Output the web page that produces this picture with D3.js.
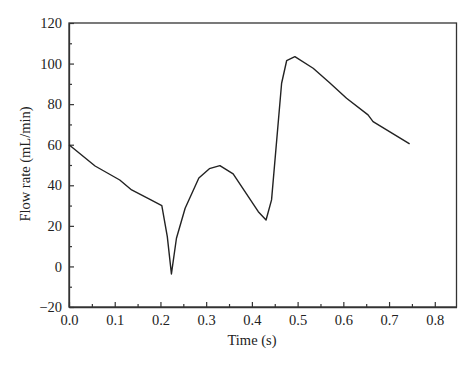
<!DOCTYPE html>
<html><head><meta charset="utf-8">
<script src="https://cdn.jsdelivr.net/npm/d3@7"></script>
<style>body{margin:0;background:#fff}svg{display:block}</style>
</head><body>
<svg id="c" width="474" height="366"></svg>
<script>
const timeS = [0.0, 0.057, 0.111, 0.137, 0.177, 0.203, 0.215, 0.224, 0.235, 0.254, 0.284, 0.307, 0.330, 0.359, 0.414, 0.431, 0.443, 0.465, 0.476, 0.494, 0.534, 0.570, 0.607, 0.654, 0.665, 0.745];
const flowRate = [60.0, 49.5, 42.6, 37.7, 33.1, 30.0, 14.7, -3.7, 13.9, 28.7, 43.6, 48.2, 49.7, 45.6, 27.0, 22.9, 32.8, 90.3, 101.4, 103.4, 97.7, 90.5, 82.9, 74.7, 71.4, 60.4];
const xTicks = [0.0, 0.1, 0.2, 0.3, 0.4, 0.5, 0.6, 0.7, 0.8];
const yTicks = [-20, 0, 20, 40, 60, 80, 100, 120];
const xMinor = [0.05, 0.15, 0.25, 0.35, 0.45, 0.55, 0.65, 0.75];
const yMinor = [-10, 10, 30, 50, 70, 90, 110];

const svg = d3.select("#c");
const L = 69, R = 456.5, T = 23, B = 307;
const x = d3.scaleLinear().domain([0, 0.8475]).range([L, R]);
const y = d3.scaleLinear().domain([-20, 120]).range([B, T]);
const font = "'Liberation Serif', 'DejaVu Serif', serif";
const col = "#222";

// frame
svg.append("rect").attr("x", L).attr("y", T).attr("width", R - L).attr("height", B - T)
  .attr("fill", "none").attr("stroke", "#333").attr("stroke-width", 1.3);

// x axis
const xa = svg.append("g").attr("transform", `translate(0,${B})`)
  .call(d3.axisBottom(x).tickValues(xTicks).tickFormat(d3.format(".1f")).tickSizeInner(-5).tickSizeOuter(0).tickPadding(8));
xa.select(".domain").attr("stroke", "#333").attr("stroke-width", 1.3);
xa.selectAll(".tick line").attr("stroke", "#333").attr("stroke-width", 1.2);
xa.selectAll("text").attr("font-family", font).attr("font-size", 14.5).attr("fill", col);
const xm = svg.append("g").attr("transform", `translate(0,${B})`)
  .call(d3.axisBottom(x).tickValues(xMinor).tickFormat("").tickSizeInner(-3).tickSizeOuter(0));
xm.select(".domain").remove();
xm.selectAll(".tick line").attr("stroke", "#333").attr("stroke-width", 1.2);

// y axis
const ya = svg.append("g").attr("transform", `translate(${L},0)`)
  .call(d3.axisLeft(y).tickValues(yTicks).tickFormat(d => d < 0 ? "\u2212" + Math.abs(d) : d).tickSizeInner(-5).tickSizeOuter(0).tickPadding(7));
ya.select(".domain").attr("stroke", "#333").attr("stroke-width", 1.3);
ya.selectAll(".tick line").attr("stroke", "#333").attr("stroke-width", 1.2);
ya.selectAll("text").attr("font-family", font).attr("font-size", 14.5).attr("fill", col);
const ym = svg.append("g").attr("transform", `translate(${L},0)`)
  .call(d3.axisLeft(y).tickValues(yMinor).tickFormat("").tickSizeInner(-3).tickSizeOuter(0));
ym.select(".domain").remove();
ym.selectAll(".tick line").attr("stroke", "#333").attr("stroke-width", 1.2);

// line
const data = timeS.map((t, i) => [t, flowRate[i]]);
svg.append("path").datum(data)
  .attr("fill", "none").attr("stroke", col).attr("stroke-width", 1.4).attr("stroke-linejoin", "round")
  .attr("d", d3.line().x(d => x(d[0])).y(d => y(d[1])));

// titles
svg.append("text").attr("x", 252).attr("y", 345).attr("text-anchor", "middle")
  .attr("font-family", font).attr("font-size", 14.5).attr("fill", col).text("Time (s)");
svg.append("text").attr("transform", "translate(30,164) rotate(-90)").attr("text-anchor", "middle")
  .attr("font-family", font).attr("font-size", 14.5).attr("fill", col).text("Flow rate (mL/min)");
</script>
</body></html>
